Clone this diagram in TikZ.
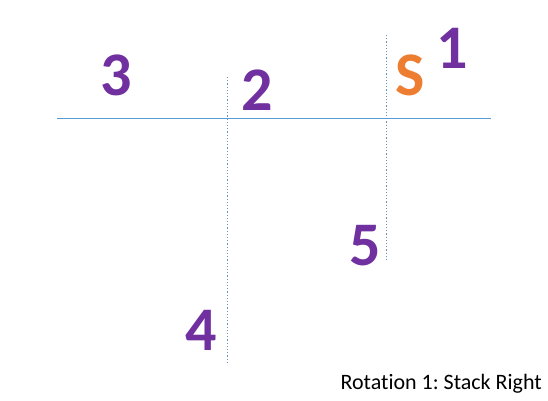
\documentclass[tikz,border=0pt]{standalone}
\usepackage{fontspec}
\setmainfont[Ligatures=NoCommon]{Carlito}
\frenchspacing
\definecolor{numpurple}{RGB}{112,48,160}
\definecolor{sorange}{RGB}{237,125,49}
\definecolor{lineblue}{RGB}{91,155,213}
\begin{document}
\begin{tikzpicture}[x=1pt,y=-1pt,
  num/.style={inner sep=0pt,anchor=base,font=\fontsize{62}{62}\selectfont\bfseries,text=numpurple},
  axis/.style={draw=lineblue,line width=1pt},
  guide/.style={draw=lineblue!80!gray,line width=0.9pt,dash pattern=on 1.2pt off 2pt}]
\useasboundingbox (0,0) rectangle (548,400);
\coordinate (hl) at (57,118);
\coordinate (hr) at (491,118);
\coordinate (v1t) at (227,77);
\coordinate (v1b) at (227,365);
\coordinate (v2t) at (386,35);
\coordinate (v2b) at (386,261);
\draw[axis] (hl) -- (hr);
\draw[guide] (v1t) -- (v1b);
\draw[guide] (v2t) -- (v2b);
\node[num] (n3) at (116,95) {3};
\node[num] (n2) at (257,110) {2};
\node[num,text=sorange] (s) at (410,95) {S};
\node[num] (n1) at (452,68) {1};
\node[num] (n5) at (365,265) {5};
\node[num] (n4) at (201,350) {4};
\node[inner sep=0pt,anchor=base east,font=\fontsize{22}{22}\selectfont] (cap) at (542,389) {Rotation 1: Stack Right};
\end{tikzpicture}
\end{document}
